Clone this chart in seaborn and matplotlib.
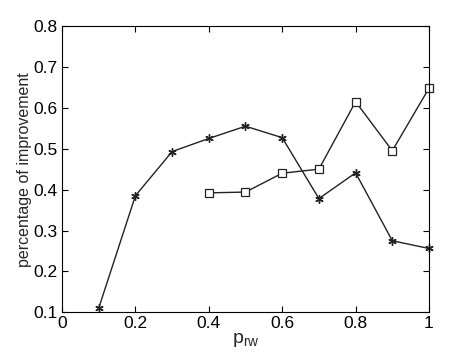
import matplotlib
matplotlib.use("Agg")
import matplotlib.pyplot as plt
import seaborn as sns
import pandas as pd

x_star = [0.1, 0.2, 0.3, 0.4, 0.5, 0.6, 0.7, 0.8, 0.9, 1.0]
y_star = [0.110, 0.385, 0.493, 0.525, 0.555, 0.527, 0.378, 0.441, 0.275, 0.256]
x_sq = [0.4, 0.5, 0.6, 0.7, 0.8, 0.9, 1.0]
y_sq = [0.392, 0.394, 0.440, 0.450, 0.615, 0.495, 0.648]
xticks = [0, 0.2, 0.4, 0.6, 0.8, 1]
xticklabels = ["0", "0.2", "0.4", "0.6", "0.8", "1"]
yticks = [0.1, 0.2, 0.3, 0.4, 0.5, 0.6, 0.7, 0.8]
yticklabels = ["0.1", "0.2", "0.3", "0.4", "0.5", "0.6", "0.7", "0.8"]

sns.set_style("ticks")
plt.rcParams['font.family'] = ['Liberation Sans', 'DejaVu Sans']
plt.rcParams['mathtext.fontset'] = 'custom'
plt.rcParams['mathtext.rm'] = 'Liberation Sans'
plt.rcParams['mathtext.it'] = 'Liberation Sans'

fig = plt.figure(figsize=(4.74, 3.55), dpi=100)
ax = fig.add_axes([62 / 474, 1 - 312.3 / 355, (429 - 62) / 474, (312.3 - 26) / 355])

df_star = pd.DataFrame({"x": x_star, "y": y_star})
df_sq = pd.DataFrame({"x": x_sq, "y": y_sq})
sns.lineplot(data=df_star, x="x", y="y", ax=ax, color="#222222", linewidth=1.0,
             marker=(6, 2, 0), markersize=6, markeredgecolor="#222222",
             markeredgewidth=1.0, clip_on=False)
sns.lineplot(data=df_sq, x="x", y="y", ax=ax, color="#222222", linewidth=1.0,
             marker="s", markersize=6, markerfacecolor="white",
             markeredgecolor="#222222", markeredgewidth=0.9, clip_on=False)

ax.set_xlim(0, 1)
ax.set_ylim(0.1, 0.8)
ax.set_xticks(xticks)
ax.set_xticklabels(xticklabels)
ax.set_yticks(yticks)
ax.set_yticklabels(yticklabels)
ax.tick_params(direction="in", top=True, right=True, length=4, width=0.8,
               labelsize=12.5, colors="black", pad=3)
for s in ax.spines.values():
    s.set_visible(True)
    s.set_linewidth(0.8)
    s.set_color("black")
ax.set_xlabel(r"p$_{\mathregular{rw}}$", fontsize=14, labelpad=0)
ax.set_ylabel("percentage of improvement", fontsize=11.5, labelpad=1)

fig.savefig("out.png", dpi=100)
